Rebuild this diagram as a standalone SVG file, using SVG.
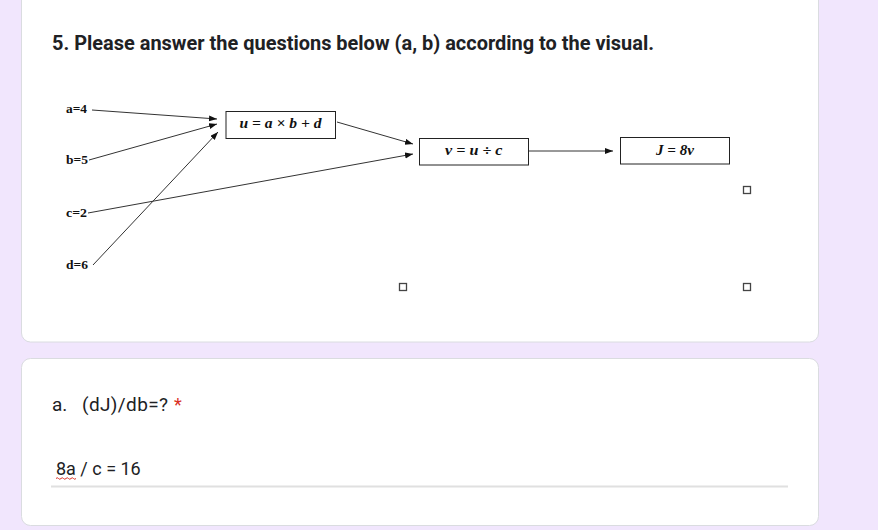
<svg xmlns="http://www.w3.org/2000/svg" width="878" height="530" viewBox="0 0 878 530">
<style>
.card{fill:#ffffff;stroke:#dadce0;stroke-width:1}
.lbl{font-family:"Liberation Serif","DejaVu Serif",serif;font-weight:bold;font-size:12.5px;fill:#111}
.math{font-family:"Liberation Serif","DejaVu Serif",serif;font-weight:bold;font-style:italic;font-size:14px;fill:#111}
.box{fill:#fff;stroke:#222;stroke-width:1}
.conn line{stroke:#333;stroke-width:1;fill:none}
.sq{fill:#fff;stroke:#444;stroke-width:1.3}
.ui{font-family:Roboto,"Liberation Sans",sans-serif;fill:#202124}
</style>
<defs>
<marker id="ah" markerUnits="userSpaceOnUse" markerWidth="9" markerHeight="7" refX="8" refY="3" orient="auto">
<path d="M0,0 L8,3 L0,6 z" fill="#111"/>
</marker>
</defs>
<rect x="0" y="0" width="878" height="530" fill="#f1e6fd"/>
<rect class="card" x="21.5" y="-10" width="797" height="352" rx="9"/>
<rect class="card" x="21.5" y="358.5" width="797" height="167" rx="9"/>
<text class="ui" x="52" y="50" font-size="20" font-weight="bold" textLength="602" lengthAdjust="spacingAndGlyphs">5. Please answer the questions below (a, b) according to the visual.</text>

<g class="conn">
<line x1="92" y1="110" x2="217" y2="119" marker-end="url(#ah)"/>
<line x1="89" y1="160" x2="217" y2="124" marker-end="url(#ah)"/>
<line x1="93" y1="265" x2="218" y2="132" marker-end="url(#ah)"/>
<line x1="88" y1="213" x2="413" y2="154" marker-end="url(#ah)"/>
<line x1="337" y1="122" x2="413" y2="144" marker-end="url(#ah)"/>
<line x1="529" y1="151" x2="613" y2="151" marker-end="url(#ah)"/>
</g>

<g id="a"><text class="lbl" x="66" y="113" textLength="21" lengthAdjust="spacingAndGlyphs">a=4</text></g>
<g id="b"><text class="lbl" x="66" y="163.5" textLength="22" lengthAdjust="spacingAndGlyphs">b=5</text></g>
<g id="c"><text class="lbl" x="66" y="216.5" textLength="21" lengthAdjust="spacingAndGlyphs">c=2</text></g>
<g id="d"><text class="lbl" x="66" y="268.5" textLength="22" lengthAdjust="spacingAndGlyphs">d=6</text></g>
<g id="u"><rect class="box" x="226" y="111.5" width="109.5" height="27"/><text class="math" x="239.5" y="128" textLength="82" lengthAdjust="spacingAndGlyphs">u = a × b + d</text></g>
<g id="v"><rect class="box" x="419.5" y="138.5" width="109" height="26.5"/><text class="math" x="445" y="155" textLength="57.5" lengthAdjust="spacingAndGlyphs">v = u ÷ c</text></g>
<g id="J"><rect class="box" x="620.5" y="137.5" width="109" height="26.5"/><text class="math" x="656" y="154.5" textLength="38" lengthAdjust="spacingAndGlyphs">J = 8v</text></g>

<rect class="sq" x="743.5" y="186.5" width="7" height="7"/>
<rect class="sq" x="399.5" y="283.5" width="7" height="7"/>
<rect class="sq" x="743.5" y="283.5" width="7" height="7"/>

<text class="ui" x="52" y="411" font-size="19">a.</text>
<text class="ui" x="82" y="411" font-size="19" textLength="86">(dJ)/db=?</text>
<text x="174" y="411" font-size="18" font-family="Roboto,'Liberation Sans',sans-serif" fill="#d93025">*</text>
<text class="ui" x="56" y="475" font-size="18">8a / c = 16</text>
<path d="M56,478.5 q1.25,-1.5 2.5,0 t2.5,0 t2.5,0 t2.5,0 t2.5,0 t2.5,0 t2.5,0 t2.5,0" fill="none" stroke="#d93025" stroke-width="1"/>
<line x1="51" y1="486.5" x2="788" y2="486.5" stroke="#e0e0e0" stroke-width="2"/>
</svg>
